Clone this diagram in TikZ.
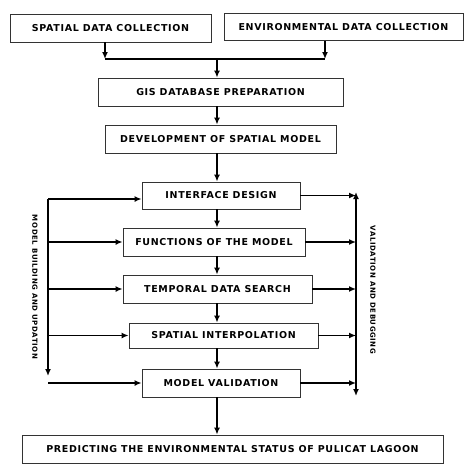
\documentclass[tikz,border=0pt]{standalone}
\usepackage{fontspec}
\setmainfont{DejaVu Sans}
\newfontfamily\boxfont[LetterSpace=7]{DejaVu Sans}
\newfontfamily\sidefont[LetterSpace=8]{DejaVu Sans}
\usetikzlibrary{arrows.meta}
\begin{document}
\begin{tikzpicture}[x=1pt, y=-1pt,
        box/.style={draw=black!80, line width=0.8pt, inner sep=0pt, font=\boxfont\bfseries\fontsize{9.5}{10}\selectfont},
        tip/.tip={Latex[length=7pt,width=6pt]},
        arr/.style={-tip, line width=1.4pt},
        side/.style={rotate=-90, font=\sidefont\bfseries\fontsize{7}{8}\selectfont}]
            \useasboundingbox (0, 0) rectangle (474, 474);

            \node[box, minimum width=201, minimum height=28] (spat) at (110.5, 28) {SPATIAL DATA COLLECTION};
            \node[box, minimum width=239, minimum height=27] (env) at (343.5, 27) {ENVIRONMENTAL DATA COLLECTION};
            \node[box, minimum width=245, minimum height=28] (gis) at (220.5, 92) {GIS DATABASE PREPARATION};
            \node[box, minimum width=231, minimum height=28] (dev) at (220.5, 139) {DEVELOPMENT OF SPATIAL MODEL};
            \node[box, minimum width=158, minimum height=27] (intf) at (221, 195.5) {INTERFACE DESIGN};
            \node[box, minimum width=182, minimum height=28] (func) at (214, 242) {FUNCTIONS OF THE MODEL};
            \node[box, minimum width=189, minimum height=28] (temp) at (217.5, 289) {TEMPORAL DATA SEARCH};
            \node[box, minimum width=189, minimum height=25] (interp) at (223.5, 335.5) {SPATIAL INTERPOLATION};
            \node[box, minimum width=158, minimum height=28] (valid) at (221, 383) {MODEL VALIDATION};
            \node[box, minimum width=421, minimum height=28] (pred) at (232.5, 449) {PREDICTING THE ENVIRONMENTAL STATUS OF PULICAT LAGOON};

            \node[side] (build) at (35, 287) {MODEL BUILDING AND UPDATION};
            \node[side] (debug) at (373, 290) {VALIDATION AND DEBUGGING};

            % joining the two collections
            \coordinate (jl) at (105, 59);
            \coordinate (jr) at (325, 59);
            \coordinate (ax) at (217, 59);
            \draw[arr] (spat.south -| jl) -- (jl);
            \draw[arr] (env.south -| jr) -- (jr);
            \draw[line width=1.4pt] (jl) -- (jr);
            \draw[arr] (ax) -- (gis.north -| ax);

            \draw[arr] (gis.south -| ax) -- (dev.north -| ax);
            \draw[arr] (dev.south -| ax) -- (intf.north -| ax);
            \draw[arr] (intf.south -| ax) -- (func.north -| ax);
            \draw[arr] (func.south -| ax) -- (temp.north -| ax);
            \draw[arr] (temp.south -| ax) -- (interp.north -| ax);
            \draw[arr] (interp.south -| ax) -- (valid.north -| ax);
            \draw[arr] (valid.south -| ax) -- (pred.north -| ax);

            % left rail
            \coordinate (ltop) at (48, 199);
            \coordinate (lbot) at (48, 376);
            \draw[arr] (ltop) -- (lbot);
            \draw[arr] (ltop) -- (intf.west |- ltop);
            \foreach \n in {func, temp, interp, valid}
                \draw[arr] (\n.west -| ltop) -- (\n.west);

            % right rail
            \coordinate (rtop) at (356, 192);
            \coordinate (rbot) at (356, 396);
            \draw[arr, tip-tip] (rtop) -- (rbot);
            \foreach \n in {intf, func, temp, interp, valid}
                \draw[arr] (\n.east) -- (\n.east -| rtop);
        \end{tikzpicture}
\end{document}
